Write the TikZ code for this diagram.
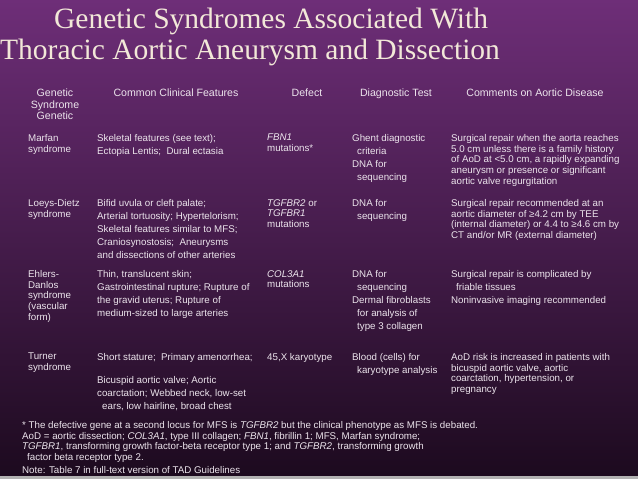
\documentclass[tikz,border=0pt]{standalone}
\usepackage{fontspec}
\setmainfont{Liberation Sans}
\newfontfamily\titlefont{Liberation Serif}
\newcommand{\ind}{\hspace*{5pt}}
\definecolor{bgtop}{HTML}{6E2E78}
\definecolor{bgbot}{HTML}{1C0A1E}
\definecolor{celltext}{HTML}{ECE4EC}
\definecolor{titletext}{HTML}{F2E8D8}

\begin{document}
\begin{tikzpicture}[x=1pt,y=-1pt,
	cell/.style={anchor=north west,align=left,inner sep=0pt,text=celltext,font=\fontsize{9.75}{13}\selectfont},
	tight/.style={cell,font=\fontsize{9.75}{10.8}\selectfont},
	head/.style={anchor=north,align=center,inner sep=0pt,text=celltext,font=\fontsize{10.6}{11.5}\selectfont},
	titleline/.style={anchor=base west,inner sep=0pt,text=titletext,font=\titlefont\fontsize{29.5}{32}\selectfont}]
	\useasboundingbox (0,0) rectangle (638,479);
	\shade[top color=bgtop,bottom color=bgbot] (0,0) rectangle (638,479);
	\begin{scope}
	\clip (0,0) rectangle (638,476);
	% title
	\node[titleline] (title1) at (54,28) {Genetic Syndromes Associated With};
	\node[titleline] (title2) at (0,59) {Thoracic Aortic Aneurysm and Dissection};

	% header row
	\node[head] (hsyn) at (55,89) {Genetic\\Syndrome\\Genetic};
	\node[head] (hfeat) at (176,89) {Common Clinical Features};
	\node[head] (hdef) at (307,89) {Defect};
	\node[head] (htest) at (396,89) {Diagnostic Test};
	\node[head] (hcom) at (535,89) {Comments on Aortic Disease};

	% Marfan
	\node[tight] (syn1) at (28,134) {Marfan\\syndrome};
	\node[cell] (feat1) at (97,134) {Skeletal features (see text);\\Ectopia Lentis;\ \ Dural ectasia};
	\node[tight] (def1) at (267,134) {\textit{FBN1}\\mutations*};
	\node[cell] (test1) at (352,134) {Ghent diagnostic\\\ind criteria\\DNA for\\\ind sequencing};
	\node[tight] (com1) at (451,134) {Surgical repair when the aorta reaches\\5.0 cm unless there is a family history\\of AoD at <5.0 cm, a rapidly expanding\\aneurysm or presence or significant\\aortic valve regurgitation};

	% Loeys-Dietz
	\node[tight] (syn2) at (28,199) {Loeys-Dietz\\syndrome};
	\node[cell] (feat2) at (97,199) {Bifid uvula or cleft palate;\\Arterial tortuosity; Hypertelorism;\\Skeletal features similar to MFS;\\Craniosynostosis;\ \ Aneurysms\\and dissections of other arteries};
	\node[tight] (def2) at (267,199) {\textit{TGFBR2} or\\\textit{TGFBR1}\\mutations};
	\node[cell] (test2) at (352,199) {DNA for\\\ind sequencing};
	\node[tight] (com2) at (451,199) {Surgical repair recommended at an\\aortic diameter of ≥4.2 cm by TEE\\(internal diameter) or 4.4 to ≥4.6 cm by\\CT and/or MR (external diameter)};

	% Ehlers-Danlos
	\node[tight] (syn3) at (28,270) {Ehlers-\\Danlos\\syndrome\\(vascular\\form)};
	\node[cell] (feat3) at (97,270) {Thin, translucent skin;\\Gastrointestinal rupture; Rupture of\\the gravid uterus; Rupture of\\medium-sized to large arteries};
	\node[tight] (def3) at (267,270) {\textit{COL3A1}\\mutations};
	\node[cell] (test3) at (352,270) {DNA for\\\ind sequencing\\Dermal fibroblasts\\\ind for analysis of\\\ind type 3 collagen};
	\node[cell] (com3) at (451,270) {Surgical repair is complicated by\\\ind friable tissues\\Noninvasive imaging recommended};

	% Turner
	\node[tight] (syn4) at (28,353) {Turner\\syndrome};
	\node[cell] (feat4) at (97,353) {Short stature;\ \ Primary amenorrhea;\\[10pt]Bicuspid aortic valve; Aortic\\coarctation; Webbed neck, low-set\\\ind ears, low hairline, broad chest};
	\node[cell] (def4) at (267,353) {45,X karyotype};
	\node[cell] (test4) at (352,353) {Blood (cells) for\\\ind karyotype analysis};
	\node[tight] (com4) at (451,353) {AoD risk is increased in patients with\\bicuspid aortic valve, aortic\\coarctation, hypertension, or\\pregnancy};

	% footnote
	\node[tight] (foot) at (22,421) {* The defective gene at a second locus for MFS is \textit{TGFBR2} but the clinical phenotype as MFS is debated.\\AoD = aortic dissection; \textit{COL3A1}, type III collagen; \textit{FBN1}, fibrillin 1; MFS, Marfan syndrome;\\\textit{TGFBR1}, transforming growth factor-beta receptor type 1; and \textit{TGFBR2}, transforming growth\\\ind factor beta receptor type 2.\\[2pt]Note: Table 7 in full-text version of TAD Guidelines};
	\end{scope}
	\fill[gray!60] (0,476) rectangle (638,479);
\end{tikzpicture}
\end{document}
